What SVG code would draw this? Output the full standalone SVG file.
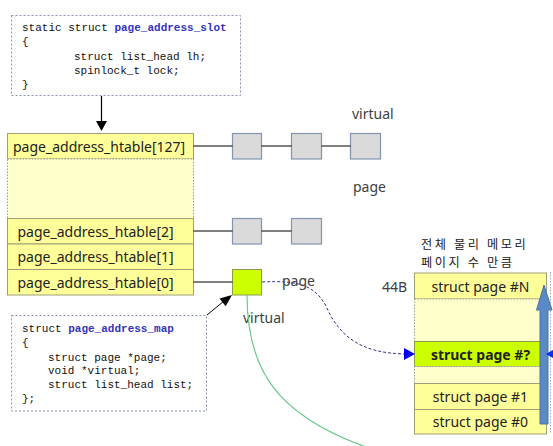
<svg xmlns="http://www.w3.org/2000/svg" width="553" height="446" viewBox="0 0 553 446">
<style>
.code{font-family:"Liberation Mono","DejaVu Sans Mono",monospace;font-size:11px;fill:#111}
.kw{fill:#3333bb;font-weight:bold}
.codebox{fill:#fff;stroke:#8a96aa;stroke-width:1;stroke-dasharray:2,2}
.lbl{font-family:"Noto Sans","Open Sans",sans-serif;font-size:14px;fill:#222}
.cell{fill:#ffff99;stroke:#9e9e78;stroke-width:1}
.blank{fill:#ffffcc;stroke:#9e9e90;stroke-width:1;stroke-dasharray:1.5,1.5}
.gray{fill:#dadada;stroke:#8394b0;stroke-width:1.2}
.lime{fill:#ccff00;stroke:#8c9a50;stroke-width:1}
.side{font-family:"Noto Sans","Open Sans",sans-serif;font-size:14px;fill:#404040}
.kr{font-family:"Noto Sans CJK KR","Noto Sans",sans-serif;font-size:12.2px;fill:#222;letter-spacing:2.6px}
</style>
<rect width="553" height="446" fill="#fff"/>

<g id="slot-struct">
<rect class="codebox" x="11.5" y="15.5" width="229" height="80"/>
<text class="code" x="22" y="31">static struct <tspan class="kw">page_address_slot</tspan></text>
<text class="code" x="22" y="45">{</text>
<text class="code" x="74" y="60">struct list_head lh;</text>
<text class="code" x="74" y="74">spinlock_t lock;</text>
<text class="code" x="22" y="88">}</text>
</g>

<g id="htable">
<rect class="cell" x="7.5" y="133.5" width="186" height="25.5"/>
<text class="lbl" x="13" y="152">page_address_htable[127]</text>
<rect class="blank" x="7.5" y="159" width="186" height="59.5"/>
<rect class="cell" x="7.5" y="218.5" width="186" height="25.5"/>
<text class="lbl" x="17.5" y="236.5">page_address_htable[2]</text>
<rect class="cell" x="7.5" y="244" width="186" height="25.5"/>
<text class="lbl" x="17.5" y="262">page_address_htable[1]</text>
<rect class="cell" x="7.5" y="269.5" width="186" height="25.5"/>
<text class="lbl" x="17.5" y="287.5">page_address_htable[0]</text>
</g>

<g id="chain127">
<rect class="gray" x="232.5" y="133.5" width="29" height="25.5"/>
<rect class="gray" x="291.5" y="133.5" width="30" height="25.5"/>
<rect class="gray" x="350.5" y="133.5" width="30" height="25.5"/>
</g>
<g id="chain2">
<rect class="gray" x="232.5" y="218.5" width="29" height="25.5"/>
<rect class="gray" x="291.5" y="218.5" width="30" height="25.5"/>
</g>
<g id="map-node">
<rect class="lime" x="232.5" y="269.5" width="29" height="25.5"/>
</g>

<g id="labels">
<text class="side" x="352" y="119">virtual</text>
<text class="side" x="353" y="192">page</text>
<text class="side" x="282" y="286">page</text>
<text class="side" x="243" y="323">virtual</text>
</g>

<g id="map-struct">
<rect class="codebox" x="11.5" y="315.5" width="195" height="95.5"/>
<text class="code" x="22" y="332">struct <tspan class="kw">page_address_map</tspan></text>
<text class="code" x="22" y="346">{</text>
<text class="code" x="48" y="361">struct page *page;</text>
<text class="code" x="48" y="374">void *virtual;</text>
<text class="code" x="48" y="388">struct list_head list;</text>
<text class="code" x="22" y="402">};</text>
</g>

<g id="mem-caption">
<text class="kr" x="421" y="248.5">전체 물리 메모리</text>
<text class="kr" x="421" y="266.5">페이지 수 만큼</text>
<text class="side" x="382" y="292" fill="#222">44B</text>
</g>

<g id="mem-map">
<line x1="550.5" y1="272" x2="550.5" y2="434" stroke="#9aa" stroke-width="1" stroke-dasharray="1.5,1.5"/>
<rect class="cell" x="414.5" y="273" width="132" height="26"/>
<text class="lbl" x="480.5" y="292" text-anchor="middle">struct page #N</text>
<rect class="blank" x="414.5" y="299" width="132" height="42.5"/>
<rect class="lime" x="414.5" y="341.5" width="132" height="25"/>
<text class="lbl" x="480.5" y="360" text-anchor="middle" font-weight="bold">struct page #?</text>
<rect class="blank" x="414.5" y="366.5" width="132" height="17"/>
<rect class="cell" x="414.5" y="383.5" width="132" height="26"/>
<text class="lbl" x="480.5" y="402" text-anchor="middle">struct page #1</text>
<rect class="cell" x="414.5" y="409.5" width="132" height="24.5"/>
<text class="lbl" x="480.5" y="427" text-anchor="middle">struct page #0</text>
<polygon points="544,285 552,310 548,310 548,424 540,424 540,310 536.5,310" fill="#5b88c6" stroke="#4a72a8" stroke-width="1"/>
<polygon points="546,354 555,349 555,359" fill="#0a2ee8"/>
</g>

<g id="connectors">
<line x1="101.5" y1="96" x2="101.5" y2="122" stroke="#000" stroke-width="1.2"/>
<polygon points="96,121 107,121 101.5,131" fill="#000"/>
<line x1="193.5" y1="146" x2="232.5" y2="146" stroke="#000" stroke-width="1"/>
<line x1="261.5" y1="146" x2="291.5" y2="146" stroke="#000" stroke-width="1"/>
<line x1="321.5" y1="146" x2="350.5" y2="146" stroke="#000" stroke-width="1"/>
<line x1="193.5" y1="231" x2="232.5" y2="231" stroke="#000" stroke-width="1"/>
<line x1="261.5" y1="231" x2="291.5" y2="231" stroke="#000" stroke-width="1"/>
<line x1="193.5" y1="282" x2="232.5" y2="282" stroke="#000" stroke-width="1"/>
<path d="M262,282 C300,280 315,286 326,306 C340,338 362,353 405,354" fill="none" stroke="#33338f" stroke-width="1" stroke-dasharray="3,2"/>
<polygon points="415,354 404,348 404,360" fill="#0000ee"/>
<path d="M247,295 C247,370 277,415 366,447" fill="none" stroke="#6cc88c" stroke-width="1.2"/>
<line x1="207" y1="315" x2="224" y2="301" stroke="#000" stroke-width="1"/>
<polygon points="232,295 225.7,306.3 219.5,298.5" fill="#000"/>
</g>
</svg>
